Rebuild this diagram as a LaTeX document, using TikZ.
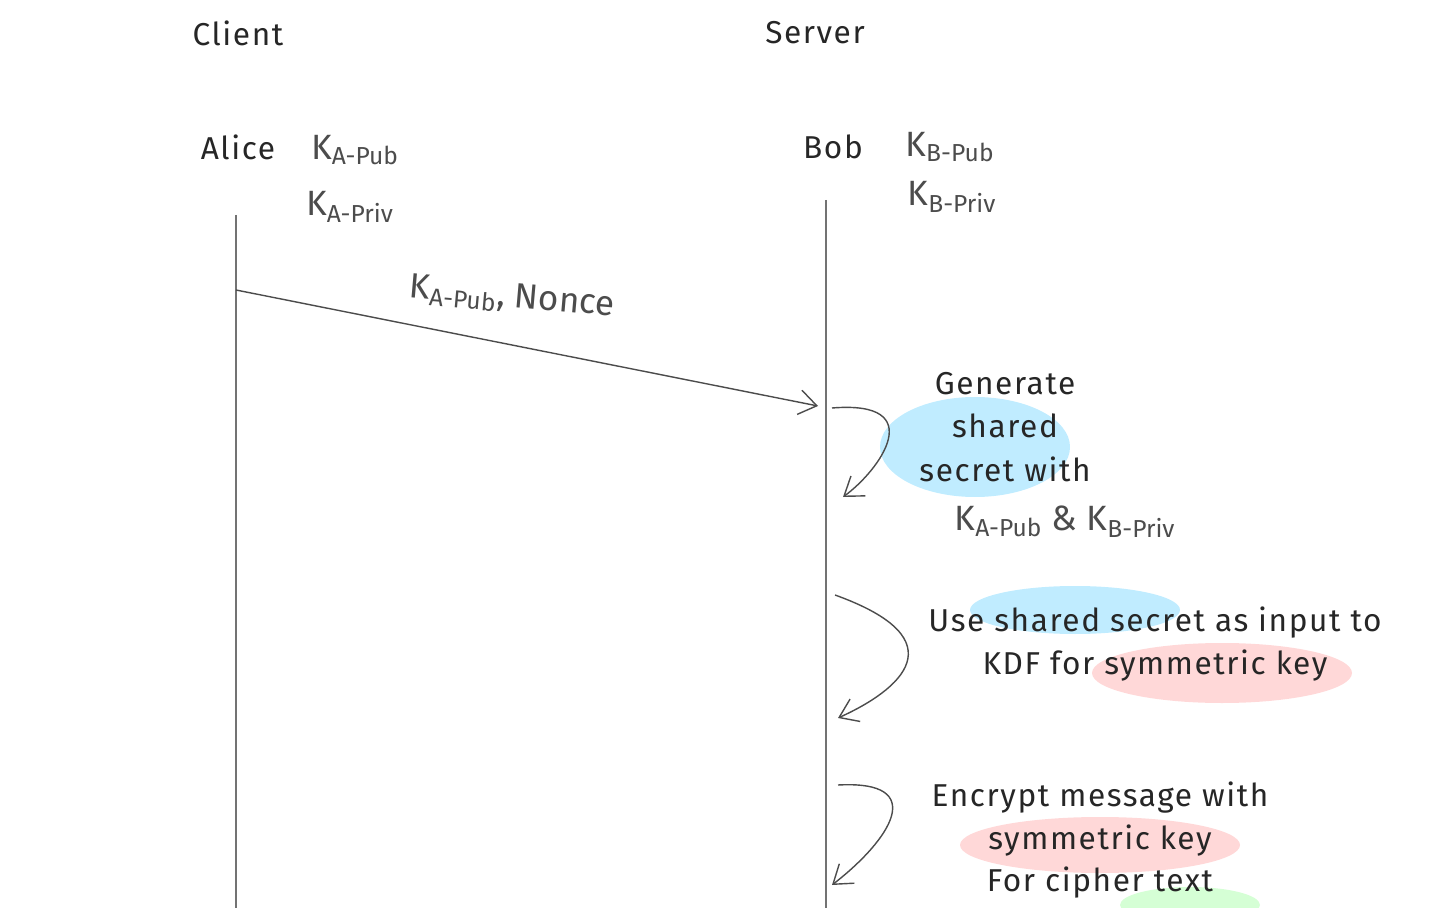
\documentclass[tikz,border=0pt]{standalone}
\usepackage{fontspec}
\setmainfont{Fira Sans}
\usetikzlibrary{arrows.meta}
\newcommand{\ksub}[1]{K\textsubscript{#1}}
\begin{document}
\begin{tikzpicture}[x=0.02cm,y=-0.02cm,
  lbl/.style={font=\fontsize{18}{20}\selectfont\addfontfeature{LetterSpace=5}, text=black!85, inner sep=1pt},
  key/.style={font=\fontsize{20}{22}\selectfont, text=black!70, inner sep=1pt},
  life/.style={draw=black!55, line width=0.6pt},
  msg/.style={draw=black!70, line width=0.8pt, -{Straight Barb[length=10pt,width=14pt]}},
  hl/.style={fill opacity=0.55, draw=none}]
\useasboundingbox (0,0) rectangle (1453,908);
% highlights
\colorlet{hlblue}{blue!30!cyan!45}
\fill[hl, hlblue] (975,447) ellipse (95 and 50);
\fill[hl, hlblue] (1075,610) ellipse (105 and 24);
\fill[hl, red!28] (1222,673) ellipse (130 and 30);
\fill[hl, red!28] (1100,845) ellipse (140 and 28);
\fill[hl, green!30] (1190,905) ellipse (70 and 18);
% headers
\node[lbl] (client) at (238,33) {Client};
\node[lbl] (server) at (815,33) {Server};
\node[lbl] (alice) at (238,147) {Alice};
\node[key] (kapub) at (355,150) {\ksub{A-Pub}};
\node[key] (kapriv) at (350,207) {\ksub{A-Priv}};
\node[lbl] (bob) at (833,147) {Bob};
\node[key] (kbpub) at (950,147) {\ksub{B-Pub}};
\node[key] (kbpriv) at (952,197) {\ksub{B-Priv}};
% lifelines
\coordinate (a0) at (236,215); \coordinate (a1) at (236,908);
\coordinate (b0) at (826,200); \coordinate (b1) at (826,908);
\draw[life] (a0) -- (a1);
\draw[life] (b0) -- (b1);
% message
\coordinate (m0) at (236,290); \coordinate (m1) at (818,406);
\draw[msg] (m0) -- (m1);
\node[key, rotate=-5] (mlab) at (512,298) {\ksub{A-Pub}, Nonce};
% self arrows
\coordinate (s1a) at (832,408); \coordinate (s1b) at (843,497);
\draw[msg] (s1a) .. controls (930,400) and (880,470) .. (s1b);
\coordinate (s2a) at (835,595); \coordinate (s2b) at (838,718);
\draw[msg] (s2a) .. controls (960,640) and (900,690) .. (s2b);
\coordinate (s3a) at (838,785); \coordinate (s3b) at (832,885);
\draw[msg] (s3a) .. controls (930,780) and (890,840) .. (s3b);
% texts
\node[lbl] (t1a) at (1005,384) {Generate};
\node[lbl] (t1b) at (1005,426) {shared};
\node[lbl] (t1c) at (1005,469) {secret with};
\node[key] (t1d) at (1065,522) {\ksub{A-Pub} \& \ksub{B-Priv}};
\node[lbl] (t2a) at (1155,623) {Use shared secret as input to};
\node[lbl] (t2b) at (1155,666) {KDF for symmetric key};
\node[lbl] (t3a) at (1100,798) {Encrypt message with};
\node[lbl] (t3b) at (1100,841) {symmetric key};
\node[lbl] (t3c) at (1100,883) {For cipher text};
\end{tikzpicture}
\end{document}
